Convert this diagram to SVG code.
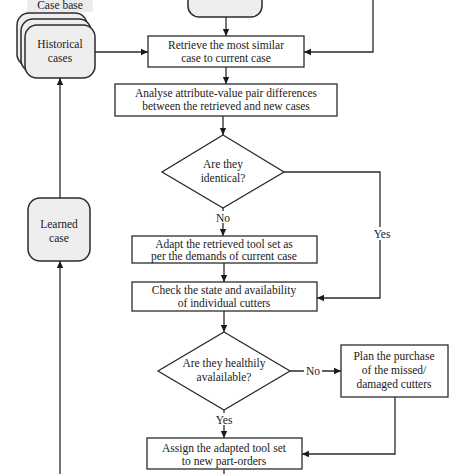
<svg xmlns="http://www.w3.org/2000/svg" width="474" height="474" viewBox="0 0 474 474">
<style>
  .box{fill:#ffffff;stroke:#2b2b2b;stroke-width:1.3}
  .rnd{fill:#eeeeee;stroke:#2b2b2b;stroke-width:1.5}
  .ln{fill:none;stroke:#2b2b2b;stroke-width:1.3}
  text{font-family:"Liberation Serif","Times New Roman",serif;font-size:11.5px;fill:#1a1a1a;text-anchor:middle}
  .lbl{fill:#ffffff;stroke:none}
</style>
<defs>
  <marker id="ah" markerWidth="8" markerHeight="8" refX="7" refY="4" orient="auto" markerUnits="userSpaceOnUse">
    <path d="M0,0.8 L7,4 L0,7.2 Z" fill="#1a1a1a"/>
  </marker>
</defs>
<rect width="474" height="474" fill="#ffffff"/>

<g id="casebase">
  <rect x="27" y="-6" width="66" height="18" fill="#ececec"/>
  <text x="60" y="9">Case base</text>
</g>

<g id="historical">
  <rect class="rnd" x="17" y="13" width="70" height="53" rx="12"/>
  <rect class="rnd" x="21" y="19" width="70" height="53" rx="12"/>
  <rect class="rnd" x="25" y="25" width="70" height="53" rx="12"/>
  <text x="60" y="48">Historical</text>
  <text x="60" y="62">cases</text>
</g>

<g id="topnode">
  <rect class="rnd" x="188" y="-25" width="74" height="42" rx="11"/>
</g>

<g id="learned">
  <rect class="rnd" x="28" y="198" width="62" height="63" rx="12"/>
  <text x="59" y="228">Learned</text>
  <text x="59" y="242">case</text>
</g>

<g id="retrieve">
  <rect class="box" x="148" y="36" width="156" height="31"/>
  <text x="226" y="49">Retrieve the most similar</text>
  <text x="226" y="62">case to current case</text>
</g>

<g id="analyse">
  <rect class="box" x="115" y="84" width="222" height="32"/>
  <text x="226" y="97">Analyse attribute-value pair differences</text>
  <text x="226" y="110">between the retrieved and new cases</text>
</g>

<g id="identical">
  <polygon class="box" points="223,135 284,172 223,208 162,172"/>
  <text x="223" y="168">Are they</text>
  <text x="223" y="182">identical?</text>
</g>

<g id="adapt">
  <rect class="box" x="132" y="236" width="185" height="27"/>
  <text x="224" y="248">Adapt the retrieved tool set as</text>
  <text x="224" y="260">per the demands of current case</text>
</g>

<g id="check">
  <rect class="box" x="132" y="282" width="185" height="29"/>
  <text x="224" y="294">Check the state and availability</text>
  <text x="224" y="307">of individual cutters</text>
</g>

<g id="healthily">
  <polygon class="box" points="224,332 290,371 224,410 158,371"/>
  <text x="224" y="367">Are they healthily</text>
  <text x="224" y="381">avalailable?</text>
</g>

<g id="plan">
  <rect class="box" x="341" y="345" width="107" height="52"/>
  <text x="394" y="360">Plan the purchase</text>
  <text x="394" y="374">of the missed/</text>
  <text x="394" y="388">damaged cutters</text>
</g>

<g id="assign">
  <rect class="box" x="147" y="438" width="155" height="31"/>
  <text x="224" y="452">Assign the adapted tool set</text>
  <text x="224" y="465">to new part-orders</text>
</g>

<g id="connectors">
  <path class="ln" d="M226,17 V36" marker-end="url(#ah)"/>
  <path class="ln" d="M373,0 V52 H304" marker-end="url(#ah)"/>
  <path class="ln" d="M95,52 H148" marker-end="url(#ah)"/>
  <path class="ln" d="M226,67 V84" marker-end="url(#ah)"/>
  <path class="ln" d="M223,116 V135" marker-end="url(#ah)"/>
  <path class="ln" d="M223,208 V236" marker-end="url(#ah)"/>
  <path class="ln" d="M284,172 H380 V298 H317" marker-end="url(#ah)"/>
  <path class="ln" d="M224,263 V282" marker-end="url(#ah)"/>
  <path class="ln" d="M224,311 V332" marker-end="url(#ah)"/>
  <path class="ln" d="M290,371 H341" marker-end="url(#ah)"/>
  <path class="ln" d="M395,397 V454 H302" marker-end="url(#ah)"/>
  <path class="ln" d="M224,410 V438" marker-end="url(#ah)"/>
  <path class="ln" d="M224,469 V474"/>
  <path class="ln" d="M60,474 V261" marker-end="url(#ah)"/>
  <path class="ln" d="M60,198 V78" marker-end="url(#ah)"/>
  <rect class="lbl" x="215" y="211" width="16" height="12"/>
  <text x="223" y="222">No</text>
  <rect class="lbl" x="371" y="227" width="20" height="13"/>
  <text x="382" y="238">Yes</text>
  <rect class="lbl" x="304" y="365" width="18" height="12"/>
  <text x="313" y="375">No</text>
  <rect class="lbl" x="214" y="413" width="20" height="12"/>
  <text x="224" y="424">Yes</text>
</g>
</svg>
